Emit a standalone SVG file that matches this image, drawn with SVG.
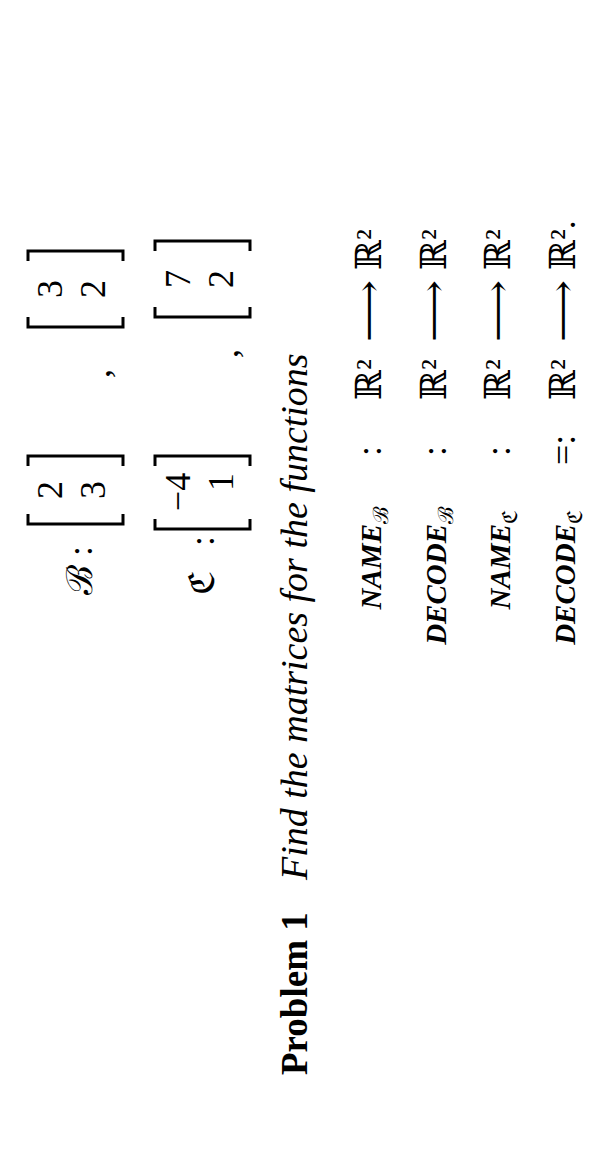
<svg xmlns="http://www.w3.org/2000/svg" width="608" height="1162" viewBox="0 0 608 1162">
<style>
.t{font-family:"Liberation Serif","DejaVu Serif",serif;fill:#000}
.m{font-size:36px}
.n{font-size:29px;font-style:italic;font-weight:bold}
.s{font-size:21px}
.b{fill:none;stroke:#000;stroke-width:3}
</style>
<rect width="608" height="1162" fill="#fff"/>
<g transform="translate(0,1162) rotate(-90)">
<g id="heading">
<text class="t" x="87" y="307" font-size="37" font-weight="bold">Problem 1</text>
<text class="t" x="282" y="307" font-size="38" font-style="italic">Find the matrices for the functions</text>
</g>
<g id="basisB">
<text class="t m" x="567" y="92" font-family="DejaVu Serif">ℬ</text>
<text class="t m" x="606" y="92">:</text>
<path class="b" d="M648,28 H638 V123 H648 M696,28 H706 V123 H696"/>
<text class="t m" x="672" y="62" text-anchor="middle">2</text>
<text class="t m" x="672" y="105" text-anchor="middle">3</text>
<text class="t m" x="784" y="110">,</text>
<path class="b" d="M845,28 H835 V123 H845 M901,28 H911 V123 H901"/>
<text class="t m" x="873" y="62" text-anchor="middle">3</text>
<text class="t m" x="873" y="105" text-anchor="middle">2</text>
</g>
<g id="basisC">
<text class="t m" x="567" y="214" font-family="DejaVu Serif">ℭ</text>
<text class="t m" x="616" y="214">:</text>
<path class="b" d="M643,155 H633 V250 H643 M696,155 H706 V250 H696"/>
<text class="t m" x="670" y="190" text-anchor="middle">−4</text>
<text class="t m" x="680" y="233" text-anchor="middle">1</text>
<text class="t m" x="804" y="238">,</text>
<path class="b" d="M855,155 H845 V250 H855 M911,155 H921 V250 H911"/>
<text class="t m" x="883" y="190" text-anchor="middle">7</text>
<text class="t m" x="883" y="233" text-anchor="middle">2</text>
</g>
<g id="rows">
<text class="t n" x="638" y="381" text-anchor="end">NAME</text><text class="t s" x="638" y="388" font-family="DejaVu Serif">ℬ</text>
<text class="t m" x="706" y="381">:</text><text class="t m" x="762" y="381" font-family="DejaVu Serif">ℝ²</text><text class="t m" x="820" y="381" font-family="DejaVu Serif" textLength="62" lengthAdjust="spacingAndGlyphs">⟶</text><text class="t m" x="892" y="381" font-family="DejaVu Serif">ℝ²</text>
<text class="t n" x="638" y="446" text-anchor="end">DECODE</text><text class="t s" x="638" y="453" font-family="DejaVu Serif">ℬ</text>
<text class="t m" x="706" y="446">:</text><text class="t m" x="762" y="446" font-family="DejaVu Serif">ℝ²</text><text class="t m" x="820" y="446" font-family="DejaVu Serif" textLength="62" lengthAdjust="spacingAndGlyphs">⟶</text><text class="t m" x="892" y="446" font-family="DejaVu Serif">ℝ²</text>
<text class="t n" x="638" y="510" text-anchor="end">NAME</text><text class="t s" x="638" y="517" font-family="DejaVu Serif">ℭ</text>
<text class="t m" x="706" y="510">:</text><text class="t m" x="762" y="510" font-family="DejaVu Serif">ℝ²</text><text class="t m" x="820" y="510" font-family="DejaVu Serif" textLength="62" lengthAdjust="spacingAndGlyphs">⟶</text><text class="t m" x="892" y="510" font-family="DejaVu Serif">ℝ²</text>
<text class="t n" x="638" y="575" text-anchor="end">DECODE</text><text class="t s" x="638" y="582" font-family="DejaVu Serif">ℭ</text>
<text class="t m" x="697" y="575">=:</text><text class="t m" x="762" y="575" font-family="DejaVu Serif">ℝ²</text><text class="t m" x="820" y="575" font-family="DejaVu Serif" textLength="62" lengthAdjust="spacingAndGlyphs">⟶</text><text class="t m" x="892" y="575" font-family="DejaVu Serif">ℝ².</text>
</g>
</g>
</svg>
